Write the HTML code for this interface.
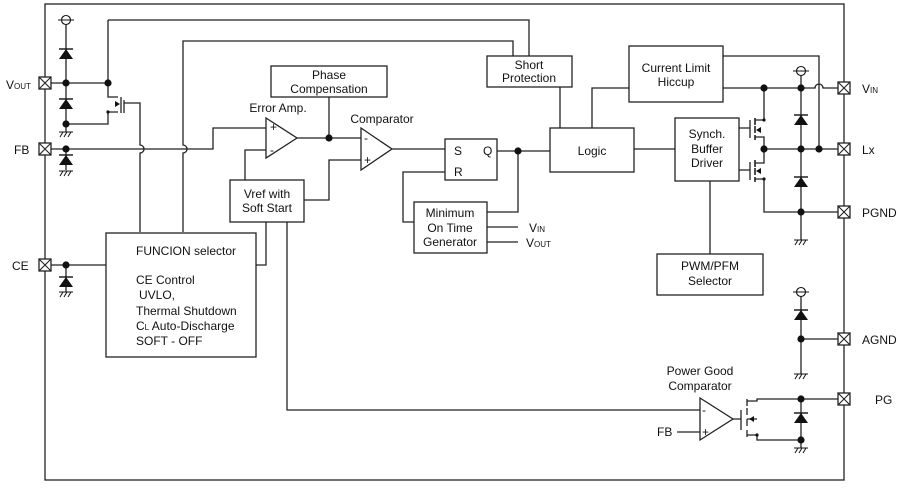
<!DOCTYPE html>
<html><head><meta charset="utf-8"><style>
html,body{margin:0;padding:0;background:#fff}
svg{display:block}
text{font-family:"Liberation Sans",sans-serif;font-size:12px;fill:#111}
</style></head><body>
<svg width="900" height="490" viewBox="0 0 900 490" xmlns="http://www.w3.org/2000/svg">
<defs>
<g id="pin"><rect x="-6" y="-6" width="12" height="12" fill="#fff" stroke="#222" stroke-width="1.3"/><path d="M-6,-6L6,6M6,-6L-6,6" stroke="#222" stroke-width="1.1"/></g>
<g id="dio"><path d="M-7,-5H7" stroke="#111" stroke-width="1.4"/><path d="M0,-5L-7,5H7Z" fill="#111"/></g>
<g id="gnd"><path d="M-7,0H7M-6,5L-3,0M-2,5L1,0M2,5L5,0" stroke="#111" stroke-width="1"/></g>
<g id="top"><circle cx="0" cy="0" r="4.5" fill="#fff" stroke="#111" stroke-width="1.1"/><path d="M-8,0H8" stroke="#111" stroke-width="1"/></g>
</defs>
<g fill="none" stroke="#222" stroke-width="1.3">
<rect x="45" y="4" width="799" height="476"/>
<!-- left VOUT -->
<path d="M66,24V124M50,83H108M66,124H108V112H118M108,20V97H118M108,20H529V56M121,97V113M124,100V113M124,103H140V145a4,4 0 0 1 0,8V232"/>
<path d="M183,232V153a4,4 0 0 0 0,-8V41H513V56"/>
<path d="M50,149H213V128H266"/>
<path d="M66,149V170M66,124V132M66,265V292M50,265H106"/>
<!-- error amp -->
<path d="M266,118L297,138L266,158Z"/>
<path d="M266,150H245V180M297,138H361M329,97V138M361,160H329V200H304"/>
<rect x="271" y="66" width="116" height="31"/>
<rect x="230" y="180" width="74" height="42"/>
<path d="M361,128L392,149L361,170Z"/>
<path d="M392,149H445"/>
<rect x="445" y="139" width="52" height="41"/>
<path d="M497,151H550M445,172H403V222H414M518,151V212H487M487,227H518M487,242H518"/>
<rect x="414" y="202" width="73" height="51"/>
<rect x="487" y="56" width="85" height="31"/>
<rect x="550" y="128" width="84" height="44"/>
<path d="M560,87V128M592,128V88H629"/>
<rect x="629" y="46" width="94" height="56"/>
<path d="M634,149H675"/>
<rect x="675" y="118" width="64" height="63"/>
<path d="M710,181V254"/>
<rect x="657" y="254" width="106" height="41"/>
<!-- right power -->
<path d="M723,88H815a4,4 0 0 1 8,0H844M723,56H819V149M764,88V120H755M755,137H764V163H755M755,179H764V212H844M764,149H844M801,74V240"/>
<path d="M739,128H750M750,120V138M739,170H750M750,162V180"/>
<path d="M755,118V125M755,126V133M755,135V140M755,160V167M755,168V175M755,177V182" stroke-width="1.6"/>
<!-- AGND -->
<path d="M801,296V374M801,339H844"/>
<!-- PG -->
<path d="M266,222V265H256M287,222V410H700M677,432H700"/>
<path d="M700,398L733,419L700,440Z"/>
<path d="M733,419H741M741,410V430M747,399V406M747,408V415M747,419V426M747,430V437M747,401H757V399H844M747,435H757V440H801M801,399V448M747,419H757"/>
<rect x="106" y="233" width="150" height="124"/>
</g>
<g fill="#111">
<circle cx="66" cy="83" r="3.6"/><circle cx="108" cy="83" r="3.6"/><circle cx="66" cy="124" r="3.6"/><circle cx="66" cy="149" r="3.6"/><circle cx="66" cy="265" r="3.6"/>
<circle cx="329" cy="138" r="3.6"/><circle cx="518" cy="151" r="3.6"/>
<circle cx="764" cy="88" r="3.6"/><circle cx="801" cy="88" r="3.6"/><circle cx="764" cy="149" r="3.6"/><circle cx="801" cy="149" r="3.6"/><circle cx="819" cy="149" r="3.6"/><circle cx="801" cy="212" r="3.6"/>
<circle cx="801" cy="339" r="3.6"/><circle cx="801" cy="399" r="3.6"/><circle cx="801" cy="440" r="3.6"/>
<circle cx="764" cy="120" r="1.6"/><circle cx="764" cy="179" r="1.6"/><circle cx="757" cy="435" r="1.6"/><circle cx="108" cy="112" r="1.6"/>
<path d="M120,104l-5,-3v6z"/><path d="M756,130l5,-3v6z"/><path d="M756,171l5,-3v6z"/><path d="M749,419l5,-3v6z"/>
</g>
<use href="#dio" x="66" y="54"/><use href="#dio" x="66" y="104"/><use href="#dio" x="66" y="160"/><use href="#dio" x="66" y="282"/>
<use href="#dio" x="801" y="120"/><use href="#dio" x="801" y="182"/><use href="#dio" x="801" y="315"/><use href="#dio" x="801" y="418"/>
<use href="#gnd" x="66" y="132"/><use href="#gnd" x="66" y="171"/><use href="#gnd" x="66" y="292"/><use href="#gnd" x="801" y="240"/><use href="#gnd" x="801" y="374"/><use href="#gnd" x="801" y="448"/>
<use href="#top" x="66" y="20"/><use href="#top" x="801" y="71"/><use href="#top" x="801" y="292"/>
<use href="#pin" x="45" y="83"/><use href="#pin" x="45" y="149"/><use href="#pin" x="45" y="265"/>
<use href="#pin" x="844" y="88"/><use href="#pin" x="844" y="149"/><use href="#pin" x="844" y="212"/><use href="#pin" x="844" y="339"/><use href="#pin" x="844" y="399"/>
<text x="6" y="89">V<tspan font-size="8">OUT</tspan></text>
<text x="14" y="154">FB</text>
<text x="12" y="270">CE</text>
<text x="862" y="93">V<tspan font-size="8">IN</tspan></text>
<text x="862" y="154">Lx</text>
<text x="862" y="217">PGND</text>
<text x="862" y="344">AGND</text>
<text x="875" y="404">PG</text>
<text x="270" y="131" font-size="10">+</text><text x="270" y="154" font-size="11">-</text>
<text x="364" y="142" font-size="11">-</text><text x="364" y="164" font-size="10">+</text>
<text x="702" y="414" font-size="11">-</text><text x="702" y="436" font-size="10">+</text>
<text x="278" y="112" text-anchor="middle">Error Amp.</text>
<text x="329" y="79" text-anchor="middle">Phase</text><text x="329" y="93" text-anchor="middle">Compensation</text>
<text x="382" y="123" text-anchor="middle">Comparator</text>
<text x="267" y="198" text-anchor="middle">Vref with</text><text x="267" y="212" text-anchor="middle">Soft Start</text>
<text x="454" y="155">S</text><text x="454" y="176">R</text><text x="483" y="155">Q</text>
<text x="450" y="217" text-anchor="middle">Minimum</text><text x="450" y="232" text-anchor="middle">On Time</text><text x="450" y="246" text-anchor="middle">Generator</text>
<text x="529" y="232">V<tspan font-size="8">IN</tspan></text><text x="526" y="247">V<tspan font-size="8">OUT</tspan></text>
<text x="529" y="69" text-anchor="middle">Short</text><text x="529" y="82" text-anchor="middle">Protection</text>
<text x="592" y="155" text-anchor="middle">Logic</text>
<text x="676" y="72" text-anchor="middle">Current Limit</text><text x="676" y="86" text-anchor="middle">Hiccup</text>
<text x="707" y="138" text-anchor="middle">Synch.</text><text x="707" y="153" text-anchor="middle">Buffer</text><text x="707" y="167" text-anchor="middle">Driver</text>
<text x="710" y="270" text-anchor="middle">PWM/PFM</text><text x="710" y="285" text-anchor="middle">Selector</text>
<text x="700" y="375" text-anchor="middle">Power Good</text><text x="700" y="390" text-anchor="middle">Comparator</text>
<text x="657" y="436">FB</text>
<text x="136" y="255">FUNCION selector</text>
<text x="136" y="284">CE Control</text>
<text x="139" y="299">UVLO,</text>
<text x="136" y="315">Thermal  Shutdown</text>
<text x="136" y="330" font-size="13">C<tspan font-size="8">L</tspan> Auto-Discharge</text>
<text x="136" y="345">SOFT - OFF</text>
</svg>
</body></html>
